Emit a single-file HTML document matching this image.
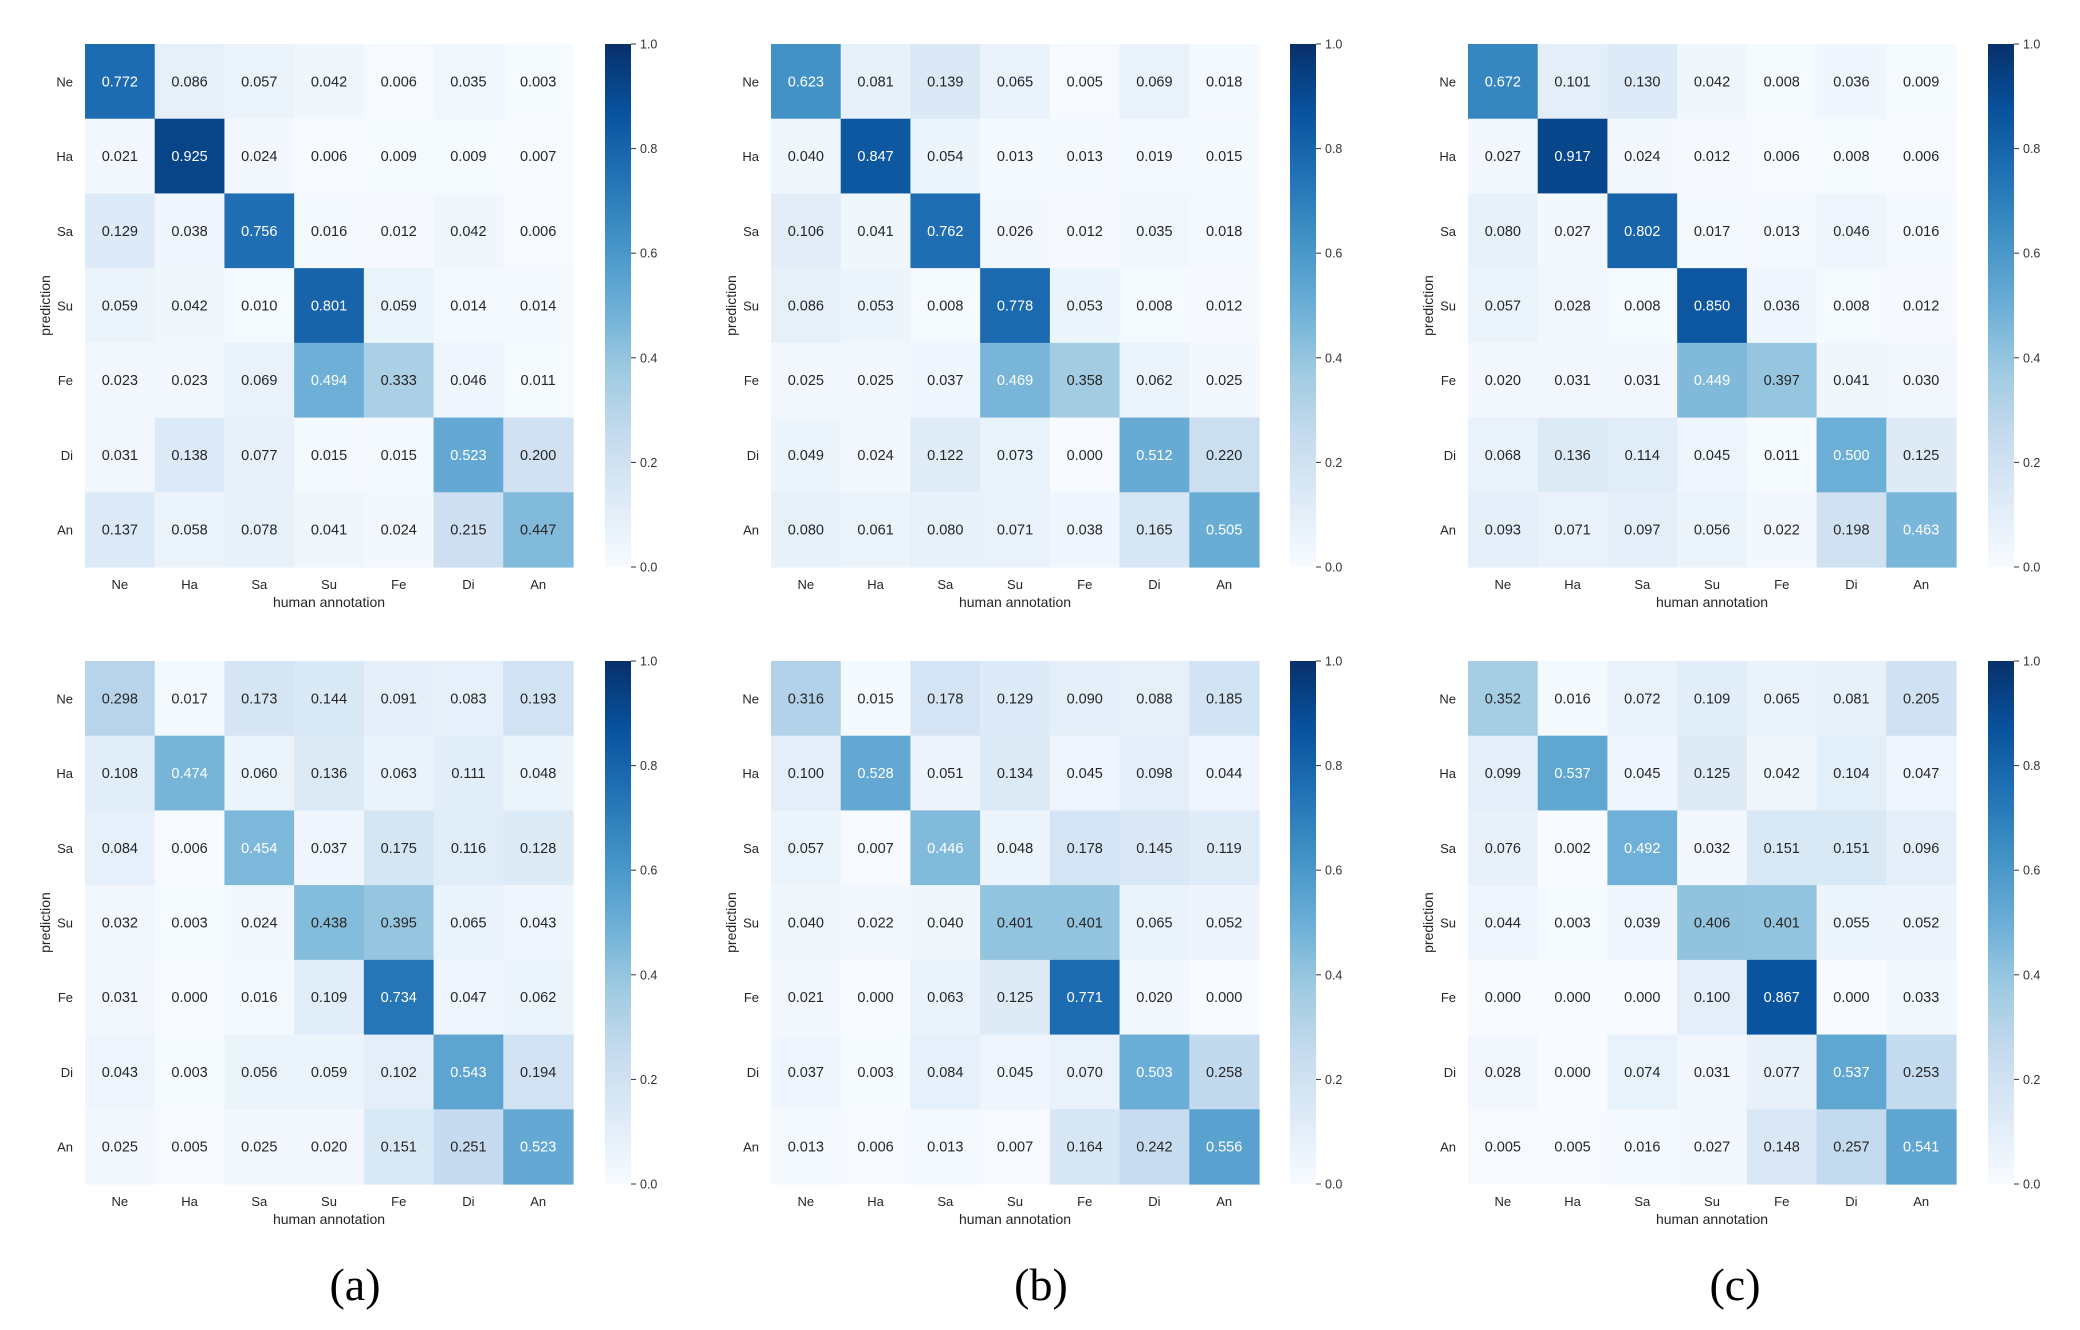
<!DOCTYPE html>
<html><head><meta charset="utf-8"><style>
html,body{margin:0;padding:0;background:#fff;}
svg{display:block;}
text{font-family:"Liberation Sans",sans-serif;}
</style></head><body>
<svg id="s" width="2080" height="1330" xmlns="http://www.w3.org/2000/svg">
<defs><linearGradient id="g" x1="0" y1="1" x2="0" y2="0">
<stop offset="0" stop-color="#f7fbff"/><stop offset="0.125" stop-color="#deebf7"/><stop offset="0.25" stop-color="#c6dbef"/><stop offset="0.375" stop-color="#9ecae1"/><stop offset="0.5" stop-color="#6baed6"/><stop offset="0.625" stop-color="#4292c6"/><stop offset="0.75" stop-color="#2171b5"/><stop offset="0.875" stop-color="#08519c"/><stop offset="1" stop-color="#08306b"/>
</linearGradient></defs>
<text x="355" y="1300" font-size="46" text-anchor="middle" style="font-family:'Liberation Serif',serif">(a)</text>
<text x="1041" y="1300" font-size="46" text-anchor="middle" style="font-family:'Liberation Serif',serif">(b)</text>
<text x="1735" y="1300" font-size="46" text-anchor="middle" style="font-family:'Liberation Serif',serif">(c)</text>
</svg>
<script>
var D=[
[[.772,.086,.057,.042,.006,.035,.003],[.021,.925,.024,.006,.009,.009,.007],[.129,.038,.756,.016,.012,.042,.006],[.059,.042,.010,.801,.059,.014,.014],[.023,.023,.069,.494,.333,.046,.011],[.031,.138,.077,.015,.015,.523,.200],[.137,.058,.078,.041,.024,.215,.447]],
[[.623,.081,.139,.065,.005,.069,.018],[.040,.847,.054,.013,.013,.019,.015],[.106,.041,.762,.026,.012,.035,.018],[.086,.053,.008,.778,.053,.008,.012],[.025,.025,.037,.469,.358,.062,.025],[.049,.024,.122,.073,.000,.512,.220],[.080,.061,.080,.071,.038,.165,.505]],
[[.672,.101,.130,.042,.008,.036,.009],[.027,.917,.024,.012,.006,.008,.006],[.080,.027,.802,.017,.013,.046,.016],[.057,.028,.008,.850,.036,.008,.012],[.020,.031,.031,.449,.397,.041,.030],[.068,.136,.114,.045,.011,.500,.125],[.093,.071,.097,.056,.022,.198,.463]],
[[.298,.017,.173,.144,.091,.083,.193],[.108,.474,.060,.136,.063,.111,.048],[.084,.006,.454,.037,.175,.116,.128],[.032,.003,.024,.438,.395,.065,.043],[.031,.000,.016,.109,.734,.047,.062],[.043,.003,.056,.059,.102,.543,.194],[.025,.005,.025,.020,.151,.251,.523]],
[[.316,.015,.178,.129,.090,.088,.185],[.100,.528,.051,.134,.045,.098,.044],[.057,.007,.446,.048,.178,.145,.119],[.040,.022,.040,.401,.401,.065,.052],[.021,.000,.063,.125,.771,.020,.000],[.037,.003,.084,.045,.070,.503,.258],[.013,.006,.013,.007,.164,.242,.556]],
[[.352,.016,.072,.109,.065,.081,.205],[.099,.537,.045,.125,.042,.104,.047],[.076,.002,.492,.032,.151,.151,.096],[.044,.003,.039,.406,.401,.055,.052],[.000,.000,.000,.100,.867,.000,.033],[.028,.000,.074,.031,.077,.537,.253],[.005,.005,.016,.027,.148,.257,.541]]];
var C=[[247,251,255],[222,235,247],[198,219,239],[158,202,225],[107,174,214],[66,146,198],[33,113,181],[8,81,156],[8,48,107]];
function col(v){var t=v*8,i=Math.min(7,Math.floor(t)),f=t-i,a=C[i],b=C[i+1];return'rgb('+[0,1,2].map(function(k){return Math.round(a[k]+(b[k]-a[k])*f)}).join(',')+')';}
var L=['Ne','Ha','Sa','Su','Fe','Di','An'];
var PX=[85,771,1468],CB=[605,1290,1988],PY=[44,661],W=488,H=523;
var h='';
for(var p=0;p<6;p++){
 var x0=PX[p%3],y0=PY[Math.floor(p/3)],cw=W/7,ch=H/7,m=D[p];
 for(var r=0;r<7;r++)for(var c=0;c<7;c++){
  var v=m[r][c];
  h+='<rect x="'+(x0+c*cw)+'" y="'+(y0+r*ch)+'" width="'+(cw+0.6)+'" height="'+(ch+0.6)+'" fill="'+col(v)+'"/>';
  h+='<text x="'+(x0+(c+.5)*cw)+'" y="'+(y0+(r+.5)*ch+5)+'" font-size="14.5" text-anchor="middle" fill="'+(v>0.445&&v!=0.447?'#fff':'#262626')+'">'+v.toFixed(3)+'</text>';
 }
 for(var i=0;i<7;i++){
  h+='<text x="'+(x0-12)+'" y="'+(y0+(i+.5)*ch+5)+'" font-size="13" text-anchor="end" fill="#262626">'+L[i]+'</text>';
  h+='<text x="'+(x0+(i+.5)*cw)+'" y="'+(y0+H+22)+'" font-size="13" text-anchor="middle" fill="#262626">'+L[i]+'</text>';
 }
 h+='<text x="'+(x0+W/2)+'" y="'+(y0+H+40)+'" font-size="14" text-anchor="middle" fill="#262626">human annotation</text>';
 var py=y0+H/2;
 h+='<text x="'+(x0-35)+'" y="'+py+'" font-size="14" text-anchor="middle" fill="#262626" transform="rotate(-90 '+(x0-35)+' '+py+')">prediction</text>';
 var cx=CB[p%3];
 h+='<rect x="'+cx+'" y="'+y0+'" width="26" height="'+H+'" fill="url(#g)"/>';
 for(var k=0;k<=5;k++){var ty=y0+H-k*H/5;
  h+='<line x1="'+(cx+26)+'" x2="'+(cx+31)+'" y1="'+ty+'" y2="'+ty+'" stroke="#333" stroke-width="1"/>';
  h+='<text x="'+(cx+35)+'" y="'+(ty+4.5)+'" font-size="12.5" fill="#333">'+(k/5).toFixed(1)+'</text>';}
}
document.getElementById('s').insertAdjacentHTML('beforeend',h);
</script>
</body></html>
